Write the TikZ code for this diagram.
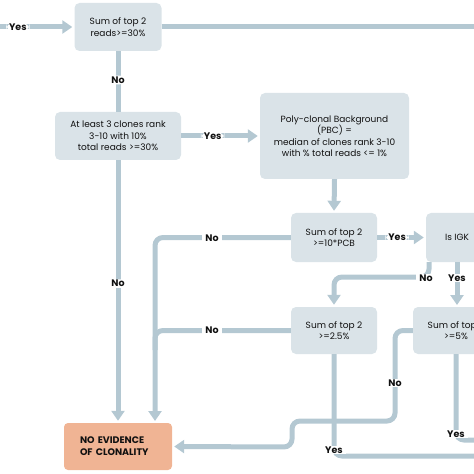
\documentclass[tikz,border=0pt]{standalone}
\usepackage{fontspec}
\setmainfont{Poppins}
\usetikzlibrary{arrows.meta}
\definecolor{boxfill}{HTML}{DAE3E8}
\definecolor{linec}{HTML}{B4C8D2}
\definecolor{necfill}{HTML}{F0B494}
\definecolor{txt}{HTML}{111111}
\tikzset{
  box/.style={draw=none, fill=boxfill, rounded corners=5bp, align=center, text=txt,
    font=\fontsize{9bp}{11.5bp}\selectfont, inner sep=0pt},
  nec/.style={draw=none, fill=necfill, rounded corners=4bp, align=left, text=txt,
    font=\fontsize{9.5bp}{12bp}\selectfont\bfseries, inner sep=0pt},
  conn/.style={draw=linec, line width=5bp, rounded corners=8bp},
  arr/.style={conn, -{Triangle[width=13bp,length=10bp]}, shorten >=2bp},
  lbl/.style={fill=white, text=txt, font=\fontsize{9.5bp}{10bp}\selectfont\bfseries, inner xsep=3bp, inner ysep=1bp}
}
\begin{document}
\begin{tikzpicture}[x=1bp,y=-1bp]
\useasboundingbox (0,0) rectangle (474,474);
% boxes
\node[box, minimum width=87bp, minimum height=48bp] (b1) at (118,27) {Sum of top 2\\reads>=30\%};
\node[box, minimum width=126bp, minimum height=48bp] (b2) at (118,136) {At least 3 clones rank\\3-10 with 10\%\\total reads >=30\%};
\node[box, minimum width=149bp, minimum height=86bp] (pbc) at (334.5,136) {Poly-clonal Background\\(PBC) =\\median of clones rank 3-10\\with \% total reads <= 1\%};
\node[box, minimum width=86bp, minimum height=49bp] (b3) at (334,237.5) {Sum of top 2\\>=10*PCB};
\node[box, minimum width=62bp, minimum height=49bp] (igk) at (457,237.5) {Is IGK};
\node[box, minimum width=86bp, minimum height=47bp] (b4) at (334,330.5) {Sum of top 2\\>=2.5\%};
\node[box, minimum width=86bp, minimum height=47bp] (b5) at (456,330.5) {Sum of top 2\\>=5\%};
\node[nec, minimum width=108bp, minimum height=47bp, text width=76bp] (nec) at (118,446.5) {NO EVIDENCE\\OF CLONALITY};
% free ends
\coordinate (inL) at (0,27);
\coordinate (outR) at (480,27);
\coordinate (outB4) at (480,456);
\coordinate (outB5) at (480,440);
% connectors
\draw[arr] (inL) -- (b1.west) node[lbl, pos=0.24] {Yes};
\draw[conn] (b1.east) -- (outR);
\draw[conn] (b1.south) -- (b2.north) node[lbl, pos=0.475] {No};
\draw[arr] (b2.east) -- (pbc.west) node[lbl, pos=0.4] {Yes};
\draw[arr] (pbc.south) -- (b3.north);
\draw[arr] (b2.south) -- (b2.south |- nec.north) node[lbl, pos=0.47] {No};
\draw[arr] (b3.east) -- (igk.west) node[lbl, pos=0.41] {Yes};
\draw[arr] (b3.west) -- (155,237.5) -- (155,423);
\draw[conn] (b4.west) -- (155,330.5) -- (155,350);
\node[lbl] (no3) at (212,238) {No};
\node[lbl] (no4) at (212,330.5) {No};
\draw[arr] (429,262) -- (429,277) -- (334,277) -- (b4.north);
\node[lbl] (noigk) at (426,278) {No};
\draw[arr] (457,262) -- (457,307);
\node[lbl] (yesigk) at (457,278) {Yes};
\draw[conn] (b4.south) -- (334,456) -- (outB4);
\node[lbl] (yes4) at (334,450) {Yes};
\draw[arr] (b5.west) -- (395,330.5) -- (395,421) -- (292,421) -- (292,447) -- (nec.east);
\node[lbl] (no5) at (395,383) {No};
\draw[conn] (b5.south) -- (456,440) -- (outB5);
\node[lbl] (yes5) at (456,434) {Yes};
\end{tikzpicture}
\end{document}
